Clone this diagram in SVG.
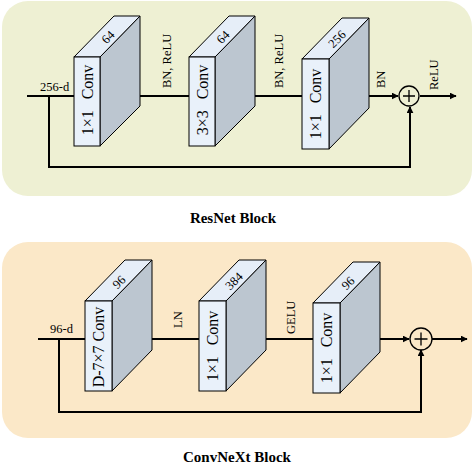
<svg xmlns="http://www.w3.org/2000/svg" width="474" height="464" viewBox="0 0 474 464">
<defs>
<style>
.panel1{fill:#eef0d3}
.panel2{fill:#fbe8c8}
.front{fill:#e9f1fa;stroke:#000;stroke-width:1}
.top{fill:#e6eef8;stroke:#000;stroke-width:1}
.side{fill:#bcc6d0;stroke:#000;stroke-width:1}
.ln{fill:none;stroke:#000;stroke-width:2}
.t{font-family:"Liberation Serif",serif;fill:#000}
.lab{font-size:16px}
.ws{word-spacing:7px}
.sm{font-size:12.5px}
.ttl{font-size:15px;font-weight:bold}
.circ{fill:none;stroke:#000;stroke-width:1.3}
</style>
<marker id="ah" viewBox="0 0 10 10" refX="9" refY="5" markerWidth="7" markerHeight="7" markerUnits="userSpaceOnUse" orient="auto">
<path d="M0,0 L10,5 L0,10 z" fill="#000"/>
</marker>
</defs>
<rect class="panel1" x="2" y="1" width="470" height="195" rx="26"/>
<rect class="panel2" x="2" y="242" width="470" height="196" rx="26"/>

<g id="connectors">
<path class="ln" d="M27,96 H74"/>
<path class="ln" d="M49,96 V167 H410 V107" marker-end="url(#ah)"/>
<path class="ln" d="M131,96 H189"/>
<path class="ln" d="M246,96 H302"/>
<path class="ln" d="M352,96 H398" marker-end="url(#ah)"/>
<path class="ln" d="M420,96 H456" marker-end="url(#ah)"/>
<path class="ln" d="M38,339 H85"/>
<path class="ln" d="M59,339 V412 H421 V350" marker-end="url(#ah)"/>
<path class="ln" d="M143,339 H199"/>
<path class="ln" d="M256,339 H313"/>
<path class="ln" d="M362,339 H409" marker-end="url(#ah)"/>
<path class="ln" d="M432,339 H467" marker-end="url(#ah)"/>
</g>

<g id="sum1">
<circle class="circ" cx="409" cy="96" r="10"/>
<path d="M403,96 H415 M409,90 V102" stroke="#000" stroke-width="1.3"/>
</g>
<g id="sum2">
<circle class="circ" cx="421" cy="339" r="11"/>
<path d="M414.5,339 H427.5 M421,332.5 V345.5" stroke="#000" stroke-width="1.3"/>
</g>

<g id="edge-labels">
<text class="t sm" x="40" y="91">256-d</text>
<text class="t sm" transform="translate(171,88) rotate(-90)">BN, ReLU</text>
<text class="t sm" transform="translate(283,88) rotate(-90)">BN, ReLU</text>
<text class="t sm" transform="translate(385,88) rotate(-90)">BN</text>
<text class="t sm" transform="translate(438,90) rotate(-90)">ReLU</text>
<text class="t sm" x="50" y="333">96-d</text>
<text class="t sm" transform="translate(182,328) rotate(-90)">LN</text>
<text class="t sm" transform="translate(295,334) rotate(-90)">GELU</text>
</g>

<g id="conv1">
<polygon class="side" points="100,57 140,16 140,106 100,146"/>
<polygon class="top" points="74,57 114,16 140,16 100,57"/>
<rect class="front" x="74" y="57" width="26" height="89"/>
<text class="t lab ws" text-anchor="middle" transform="translate(93,100) rotate(-90)">1×1 Conv</text>
<text class="t sm" text-anchor="middle" transform="translate(111,40) rotate(-45)">64</text>
</g>
<g id="conv2">
<polygon class="side" points="215,57 255,16 255,106 215,146"/>
<polygon class="top" points="189,57 229,16 255,16 215,57"/>
<rect class="front" x="189" y="57" width="26" height="89"/>
<text class="t lab ws" text-anchor="middle" transform="translate(208,100) rotate(-90)">3×3 Conv</text>
<text class="t sm" text-anchor="middle" transform="translate(226,40) rotate(-45)">64</text>
</g>
<g id="conv3">
<polygon class="side" points="329,59 369,18 369,108 329,149"/>
<polygon class="top" points="302,59 342,18 369,18 329,59"/>
<rect class="front" x="302" y="59" width="27" height="90"/>
<text class="t lab ws" text-anchor="middle" transform="translate(321,104) rotate(-90)">1×1 Conv</text>
<text class="t sm" text-anchor="middle" transform="translate(340,42) rotate(-45)">256</text>
</g>

<g id="conv4">
<polygon class="side" points="112,301 152,260 152,350 112,391"/>
<polygon class="top" points="85,301 125,260 152,260 112,301"/>
<rect class="front" x="85" y="301" width="27" height="90"/>
<text class="t lab" text-anchor="middle" transform="translate(104,347) rotate(-90)">D-7×7 Conv</text>
<text class="t sm" text-anchor="middle" transform="translate(122,285) rotate(-45)">96</text>
</g>
<g id="conv5">
<polygon class="side" points="226,301 266,260 266,350 226,391"/>
<polygon class="top" points="199,301 239,260 266,260 226,301"/>
<rect class="front" x="199" y="301" width="27" height="90"/>
<text class="t lab ws" text-anchor="middle" transform="translate(218,346) rotate(-90)">1×1 Conv</text>
<text class="t sm" text-anchor="middle" transform="translate(237,284) rotate(-45)">384</text>
</g>
<g id="conv6">
<polygon class="side" points="340,303 380,262 380,352 340,393"/>
<polygon class="top" points="313,303 353,262 380,262 340,303"/>
<rect class="front" x="313" y="303" width="27" height="90"/>
<text class="t lab ws" text-anchor="middle" transform="translate(332,348) rotate(-90)">1×1 Conv</text>
<text class="t sm" text-anchor="middle" transform="translate(351,286) rotate(-45)">96</text>
</g>

<text class="t ttl" text-anchor="middle" x="233" y="223">ResNet Block</text>
<text class="t ttl" text-anchor="middle" x="237" y="462">ConvNeXt Block</text>
</svg>
